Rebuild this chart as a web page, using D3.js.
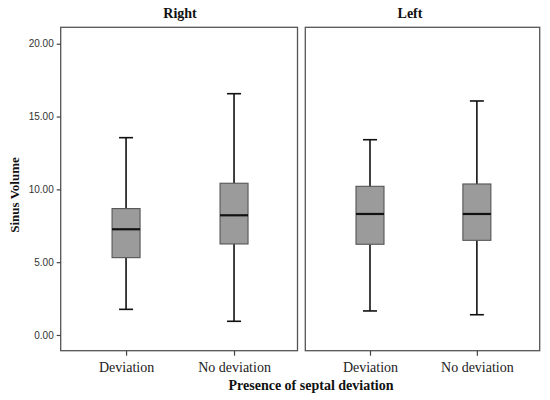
<!DOCTYPE html>
<html>
<head>
<meta charset="utf-8">
<script src="https://cdn.jsdelivr.net/npm/d3@7"></script>
<style>
  html, body { margin: 0; padding: 0; background: #fff; }
  svg { display: block; }
</style>
</head>
<body>
<svg id="chart" width="550" height="400"></svg>
<script>
// ---- data ----
const panels = ["Right", "Left"];
const categories = ["Deviation", "No deviation"];
const yTicks = [0, 5, 10, 15, 20];
// [whiskerLow, Q1, median, Q3, whiskerHigh]
const rightStats = [
  [1.76, 5.31, 7.26, 8.68, 13.55],
  [0.94, 6.25, 8.22, 10.42, 16.57]
];
const leftStats = [
  [1.65, 6.23, 8.31, 10.21, 13.41],
  [1.39, 6.50, 8.31, 10.37, 16.07]
];
const yLabel = "Sinus Volume";
const xLabel = "Presence of septal deviation";

// ---- layout ----
const svg = d3.select("#chart");
const plotTop = 27.3, plotBottom = 350.7;
const y = d3.scaleLinear().domain([-1.08, 21.13]).range([plotBottom, plotTop]);

const panelBoxes = [
  { x0: 60.7, x1: 297.5, stats: rightStats, titleX: 180 },
  { x0: 305.3, x1: 539.7, stats: leftStats, titleX: 410 }
];

const boxW = 28, capW = 14;

panelBoxes.forEach((p, i) => {
  const w = p.x1 - p.x0;
  const x = d3.scalePoint().domain(categories)
    .range([p.x0 + 0.276 * w, p.x1 - 0.268 * w]);

  const g = svg.append("g");

  // frame
  g.append("rect")
    .attr("x", p.x0).attr("y", plotTop)
    .attr("width", w).attr("height", plotBottom - plotTop)
    .attr("fill", "none").attr("stroke", "#555").attr("stroke-width", 1.3);

  // x axis (ticks + labels)
  const xAxis = d3.axisBottom(x).tickSize(5).tickPadding(6);
  const xg = g.append("g").attr("transform", `translate(0,${plotBottom})`).call(xAxis);
  xg.select(".domain").remove();
  xg.selectAll(".tick line").attr("stroke", "#444").attr("stroke-width", 1.2);
  xg.selectAll(".tick text")
    .attr("font-family", "'Liberation Serif', 'Times New Roman', serif")
    .attr("font-size", 14).attr("fill", "#222");

  // y axis on first panel only
  if (i === 0) {
    const yAxis = d3.axisLeft(y).tickValues(yTicks).tickSize(4).tickPadding(3)
      .tickFormat(d3.format(".2f"));
    const yg = g.append("g").attr("transform", `translate(${p.x0},0)`).call(yAxis);
    yg.select(".domain").remove();
    yg.selectAll(".tick line").attr("stroke", "#444").attr("stroke-width", 1.2);
    yg.selectAll(".tick text")
      .attr("font-family", "'Liberation Sans', Arial, sans-serif")
      .attr("font-size", 10).attr("fill", "#333");
  }

  // title
  g.append("text")
    .attr("x", p.titleX).attr("y", 18)
    .attr("text-anchor", "middle")
    .attr("font-family", "'Liberation Serif', 'Times New Roman', serif")
    .attr("font-weight", "bold").attr("font-size", 14).attr("fill", "#111")
    .text(panels[i]);

  // boxes
  p.stats.forEach((s, j) => {
    const cx = x(categories[j]);
    const [lo, q1, med, q3, hi] = s;
    // whiskers
    g.append("line").attr("x1", cx).attr("x2", cx)
      .attr("y1", y(hi)).attr("y2", y(q3))
      .attr("stroke", "#111").attr("stroke-width", 1.6);
    g.append("line").attr("x1", cx).attr("x2", cx)
      .attr("y1", y(q1)).attr("y2", y(lo))
      .attr("stroke", "#111").attr("stroke-width", 1.6);
    // caps
    [hi, lo].forEach(v => {
      g.append("line").attr("x1", cx - capW / 2).attr("x2", cx + capW / 2)
        .attr("y1", y(v)).attr("y2", y(v))
        .attr("stroke", "#111").attr("stroke-width", 1.6);
    });
    // box
    g.append("rect")
      .attr("x", cx - boxW / 2).attr("y", y(q3))
      .attr("width", boxW).attr("height", y(q1) - y(q3))
      .attr("fill", "#9b9b9b").attr("stroke", "#555").attr("stroke-width", 1.1);
    // median
    g.append("line").attr("x1", cx - boxW / 2).attr("x2", cx + boxW / 2)
      .attr("y1", y(med)).attr("y2", y(med))
      .attr("stroke", "#111").attr("stroke-width", 2.2);
  });
});

// axis titles
svg.append("text")
  .attr("transform", "translate(18.5,195) rotate(-90)")
  .attr("text-anchor", "middle")
  .attr("font-family", "'Liberation Serif', 'Times New Roman', serif")
  .attr("font-weight", "bold").attr("font-size", 13).attr("fill", "#111")
  .text(yLabel);

svg.append("text")
  .attr("x", 311).attr("y", 390)
  .attr("text-anchor", "middle")
  .attr("font-family", "'Liberation Serif', 'Times New Roman', serif")
  .attr("font-weight", "bold").attr("font-size", 14).attr("fill", "#111")
  .text(xLabel);
</script>
</body>
</html>
